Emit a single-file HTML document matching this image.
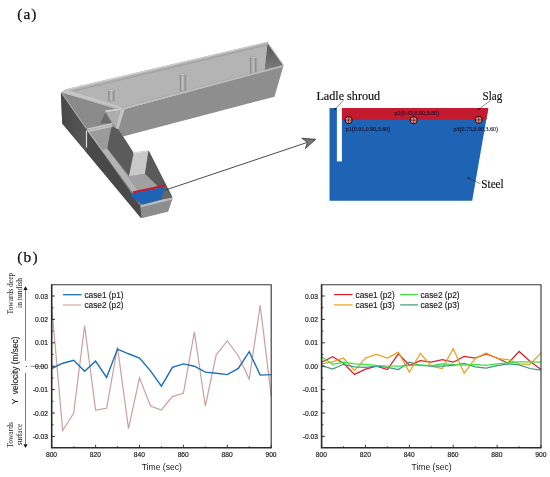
<!DOCTYPE html>
<html><head><meta charset="utf-8"><title>Figure</title>
<style>html,body{margin:0;padding:0;background:#fff}body{width:550px;height:477px;overflow:hidden;font-family:"Liberation Sans",sans-serif}svg{display:block}</style>
</head><body>
<svg width="550" height="477" viewBox="0 0 550 477" font-family="'Liberation Sans', sans-serif">
<rect width="550" height="477" fill="#fff"/>
<g font-family="'Liberation Serif', serif" fill="#111">
<text x="17.2" y="19.4" font-size="15.4" letter-spacing="1.1" stroke="#111" stroke-width="0.25">(a)</text>
<text x="17.2" y="261.6" font-size="15.4" letter-spacing="1.3" stroke="#111" stroke-width="0.25">(b)</text>
</g>
<defs>
<linearGradient id="gOuter" x1="0" y1="0" x2="1" y2="0"><stop offset="0" stop-color="#474747"/><stop offset="1" stop-color="#575757"/></linearGradient>
<linearGradient id="gPost" x1="0" y1="0" x2="1" y2="0"><stop offset="0" stop-color="#8a8a8a"/><stop offset="0.45" stop-color="#c4c4c4"/><stop offset="1" stop-color="#8a8a8a"/></linearGradient>
<linearGradient id="gEnd" x1="0" y1="0" x2="0" y2="1"><stop offset="0" stop-color="#575757"/><stop offset="1" stop-color="#7c7c7c"/></linearGradient>
</defs>
<g id="tundish" stroke-linejoin="round">
<!-- base silhouette to avoid gaps -->
<polygon points="61,92.5 66,89.5 121,108 125,108.5 118.5,129 133.6,153 148.5,150.5 172.4,198 168,211.5 141.5,218 62.2,123.4" fill="#7a7a7a"/>
<!-- long arm interior -->
<polygon points="66,90 267.5,42.8 264.4,70.2 121,108.5" fill="#b4b4b4"/>
<!-- right end wall inner -->
<polygon points="267.5,43.2 283.4,65.6 264.4,70.4" fill="url(#gEnd)"/>
<!-- back rim -->
<polygon points="65.5,89.3 267.3,41.8 268.6,44.4 67.5,92.4" fill="#b2b2b2"/>
<polygon points="65.5,89.3 267.3,41.8 268,43.1 66.3,90.9" fill="#cfcfcf"/>
<polyline points="67.5,92.6 268.4,44.6" fill="none" stroke="#8c8c8c" stroke-width="0.5"/><polyline points="66.3,91 268,43.2" fill="none" stroke="#999" stroke-width="0.35"/>
<polyline points="267.8,42.4 283.6,65" fill="none" stroke="#bdbdbd" stroke-width="0.8"/>
<!-- posts -->
<g fill="url(#gPost)" stroke="#777" stroke-width="0.3">
<rect x="108.6" y="90.5" width="5.6" height="10.5"/><ellipse cx="111.4" cy="90.5" rx="2.8" ry="1.1" fill="#c8c8c8"/>
<rect x="180" y="74.5" width="5.8" height="16.5"/><ellipse cx="182.9" cy="74.5" rx="2.9" ry="1.1" fill="#c8c8c8"/>
<rect x="250.4" y="57.5" width="5.8" height="17"/><ellipse cx="253.3" cy="57.5" rx="2.9" ry="1.1" fill="#c8c8c8"/>
</g>
<!-- front wall outer -->
<polygon points="124.5,109 283.4,66 274.5,96.7 122,136.8 118.2,129" fill="#8e8e8e"/>
<polygon points="121,108 283.4,65 283.6,66.7 121,109.9" fill="#bebebe"/>
<polyline points="121,107.9 283.4,64.9" fill="none" stroke="#9a9a9a" stroke-width="0.4"/>
<!-- corner: sloped inner triangle -->
<polygon points="62,93 121,108.5 118,128.5 85.5,128.5" fill="#8b8b8b"/>
<!-- diagonal rim -->
<polygon points="61.2,92.4 65.8,89.6 121.8,107.2 120.8,110.8" fill="#b2b2b2"/>
<polygon points="61.2,92.4 65.8,89.6 121.8,107.2 121.3,108.8" fill="#c6c6c6"/>
<polyline points="62,93.6 120.8,111" fill="none" stroke="#858585" stroke-width="0.5"/>
<!-- notch -->
<polygon points="105.3,110.3 121,108.3 121,110.4 105.5,112.4" fill="#cdcdcd"/>
<polygon points="106,112.4 120,110.4 116.5,128 112,123" fill="#adadad"/>
<polygon points="100,123.5 105.5,112.6 112,123" fill="#6c6c6c"/>
<polygon points="120.6,109.5 124.8,108.8 118.4,129.4 115.8,128" fill="#c4c4c4"/>
<!-- outer left wall seg 1 -->
<polygon points="60.8,92.8 85.8,128.3 85.8,151.8 62.2,123.4" fill="url(#gOuter)"/>
<polyline points="61.4,92.6 86,128.1" fill="none" stroke="#b5b5b5" stroke-width="0.9"/>
<!-- short arm -->
<!-- outer left wall seg 2 -->
<polygon points="85.7,128.5 87,130 140.5,206.5 141.2,218.4 85.7,151.7" fill="#494949"/>
<rect x="85.9" y="130.6" width="1.2" height="16.9" fill="#dcdcdc"/>
<!-- interior first section: end wall face -->
<polygon points="88.6,132 111,127.5 107.2,147.8 102.8,150" fill="#9b9b9b"/>
<polygon points="86.6,128.6 112,123 112.6,127 88,132.2" fill="#c4c4c4"/>
<polyline points="87.2,130.4 112.3,125" fill="none" stroke="#9a9a9a" stroke-width="0.45"/>
<!-- left inner sloped face (light) -->
<polygon points="88,132 89.4,131.8 103,150 107.2,147.8 138,190.5 133,193" fill="#b4b4b4"/>
<!-- dark inner right wall, first section -->
<polygon points="111.8,126.5 118.4,129.4 133.6,153 129,176.3 107.4,148.7" fill="#5b5b5b"/>
<!-- floor mid -->
<polygon points="109.5,151.5 129,176.3 145,173.7 161,189 138,190.5" fill="#a0a0a0"/>
<!-- box -->
<polygon points="133.5,154 148.2,151.5 145,173.7 129,176.3" fill="#c9c9c9"/>
<polygon points="133.3,152.4 148.4,150 148.4,151.8 133.5,154.3" fill="#dadada"/>
<!-- dark inner right wall, last section -->
<polygon points="148.8,150.8 172.4,197 168,199.5 162.8,191 145,173.7" fill="#5a5a5a"/>
<!-- blue / red -->
<polygon points="132.5,193.3 165.3,186.6 161.6,199.8 143,205.3 131,196" fill="#1f64b4"/>
<polygon points="133,191.3 165.2,184.6 165.5,186.6 133.2,193.4" fill="#c41a30"/>
<!-- right wall inner near end -->
<polygon points="165.4,186.6 172.4,198.5 161.5,200.3" fill="#666"/>
<!-- end face -->
<polygon points="140.5,206.5 172.4,199 168,211.5 141.5,218" fill="#8d8d8d"/>
<polygon points="140.5,205.3 161.5,199.8 172.4,197.4 172.4,199.4 140.7,207.2" fill="#bdbdbd"/>
</g>

<!-- right schematic -->
<g>
<polygon points="329.5,108 488.3,108 472.2,200.7 329.5,200.7" fill="#1f64b4"/>
<polygon points="341.9,108 488.3,108 486.3,119.8 341.9,119.8" fill="#c41a30"/>
<rect x="336.9" y="107" width="5" height="54.4" fill="#fff"/>
<g><circle cx="348.6" cy="120.1" r="3.6" fill="#ef8585" stroke="#1c0808" stroke-width="1.0"/><path d="M345.0,120.1h7.2M348.6,116.5v7.2" fill="none" stroke="#2a0a0a" stroke-width="0.6"/><circle cx="413.7" cy="120.2" r="3.6" fill="#ef8585" stroke="#1c0808" stroke-width="1.0"/><path d="M410.09999999999997,120.2h7.2M413.7,116.60000000000001v7.2" fill="none" stroke="#2a0a0a" stroke-width="0.6"/><circle cx="478.7" cy="119.9" r="3.6" fill="#ef8585" stroke="#1c0808" stroke-width="1.0"/><path d="M475.09999999999997,119.9h7.2M478.7,116.30000000000001v7.2" fill="none" stroke="#2a0a0a" stroke-width="0.6"/></g>
<g font-family="'Liberation Serif', serif" fill="#111" stroke="#111" stroke-width="0.18">
<text x="316.4" y="99.5" font-size="12.2" textLength="63.8" lengthAdjust="spacingAndGlyphs">Ladle shroud</text>
<text x="482.6" y="99.5" font-size="12.2" textLength="19.6" lengthAdjust="spacingAndGlyphs">Slag</text>
<text x="481.3" y="188.4" font-size="12.2" textLength="22.4" lengthAdjust="spacingAndGlyphs">Steel</text>
<g font-size="6" fill="#14102a" stroke="#14102a" stroke-width="0.1">
<text x="345.7" y="130.8">p1(0.01,0.90,3.60)</text>
<text x="394.5" y="114.6">p2(0.42,0.90,3.60)</text>
<text x="453.6" y="130.8">p3(0.75,0.90,3.60)</text>
</g></g>
<g stroke="#222" stroke-width="0.5">
<line x1="343.5" y1="100.3" x2="335.3" y2="108.9"/>
<line x1="490.5" y1="100.5" x2="478.8" y2="109.1"/>
<line x1="480.5" y1="183.8" x2="468.6" y2="178.1"/>
</g>
<circle cx="335.3" cy="108.9" r="0.9" fill="#111"/><circle cx="478.8" cy="109.1" r="0.9" fill="#111"/><circle cx="468.6" cy="178.1" r="0.9" fill="#111"/>
</g>
<!-- big arrow -->
<line x1="164.7" y1="190.3" x2="307" y2="142.5" stroke="#2a2a2a" stroke-width="0.85"/>
<polygon points="315.8,139.3 301.8,138.2 307.5,142.3 305.4,148.6" fill="#777" stroke="#222" stroke-width="0.7"/>

<!-- left chart -->
<g>
<polyline points="51.7,306.3 62.7,430.5 73.7,413.0 84.6,325.7 95.6,410.0 106.6,408.3 117.5,347.0 128.5,428.7 139.5,377.9 150.5,406.0 161.4,410.0 172.4,396.6 183.4,393.3 194.4,331.8 205.3,406.0 216.3,354.5 227.3,340.9 238.3,355.7 249.2,379.1 260.2,305.4 271.2,395.9" fill="none" stroke="#cba0a0" stroke-width="1.2" stroke-linejoin="miter"/>
<polyline points="51.7,368.5 62.7,363.2 73.7,360.3 84.6,371.3 95.6,361.1 106.6,377.4 117.5,349.1 128.5,353.8 139.5,358.0 150.5,370.9 161.4,386.1 172.4,367.4 183.4,363.9 194.4,366.2 205.3,372.1 216.3,373.2 227.3,374.6 238.3,368.5 249.2,351.7 260.2,375.1 271.2,374.6" fill="none" stroke="#1f6fb8" stroke-width="1.45" stroke-linejoin="miter"/>
<path d="M51.7,284.7H271.2V447.8" fill="none" stroke="#3a3a3a" stroke-width="1.15"/><path d="M51.7,284.2V447.8H271.7" fill="none" stroke="#2c2c2c" stroke-width="1.6" stroke-linejoin="miter"/><line x1="51.7" y1="436.4" x2="54.900000000000006" y2="436.4" stroke="#2a2a2a" stroke-width="1.0"/><text transform="translate(48.0,438.9) scale(0.89,1)" font-size="7.5" text-anchor="end" fill="#222" stroke="#222" stroke-width="0.2">-0.03</text><line x1="51.7" y1="413.0" x2="54.900000000000006" y2="413.0" stroke="#2a2a2a" stroke-width="1.0"/><text transform="translate(48.0,415.5) scale(0.89,1)" font-size="7.5" text-anchor="end" fill="#222" stroke="#222" stroke-width="0.2">-0.02</text><line x1="51.7" y1="389.6" x2="54.900000000000006" y2="389.6" stroke="#2a2a2a" stroke-width="1.0"/><text transform="translate(48.0,392.1) scale(0.89,1)" font-size="7.5" text-anchor="end" fill="#222" stroke="#222" stroke-width="0.2">-0.01</text><line x1="51.7" y1="366.2" x2="54.900000000000006" y2="366.2" stroke="#2a2a2a" stroke-width="1.0"/><text transform="translate(48.0,368.7) scale(0.89,1)" font-size="7.5" text-anchor="end" fill="#222" stroke="#222" stroke-width="0.2">0.00</text><line x1="51.7" y1="342.8" x2="54.900000000000006" y2="342.8" stroke="#2a2a2a" stroke-width="1.0"/><text transform="translate(48.0,345.3) scale(0.89,1)" font-size="7.5" text-anchor="end" fill="#222" stroke="#222" stroke-width="0.2">0.01</text><line x1="51.7" y1="319.4" x2="54.900000000000006" y2="319.4" stroke="#2a2a2a" stroke-width="1.0"/><text transform="translate(48.0,321.9) scale(0.89,1)" font-size="7.5" text-anchor="end" fill="#222" stroke="#222" stroke-width="0.2">0.02</text><line x1="51.7" y1="296.0" x2="54.900000000000006" y2="296.0" stroke="#2a2a2a" stroke-width="1.0"/><text transform="translate(48.0,298.5) scale(0.89,1)" font-size="7.5" text-anchor="end" fill="#222" stroke="#222" stroke-width="0.2">0.03</text><line x1="51.7" y1="424.7" x2="53.5" y2="424.7" stroke="#2a2a2a" stroke-width="0.9"/><line x1="51.7" y1="401.3" x2="53.5" y2="401.3" stroke="#2a2a2a" stroke-width="0.9"/><line x1="51.7" y1="377.9" x2="53.5" y2="377.9" stroke="#2a2a2a" stroke-width="0.9"/><line x1="51.7" y1="354.5" x2="53.5" y2="354.5" stroke="#2a2a2a" stroke-width="0.9"/><line x1="51.7" y1="331.1" x2="53.5" y2="331.1" stroke="#2a2a2a" stroke-width="0.9"/><line x1="51.7" y1="307.7" x2="53.5" y2="307.7" stroke="#2a2a2a" stroke-width="0.9"/><line x1="51.7" y1="447.8" x2="51.7" y2="444.8" stroke="#2a2a2a" stroke-width="0.9"/><text transform="translate(51.5,457.3) scale(0.89,1)" font-size="7.5" text-anchor="middle" fill="#222" stroke="#222" stroke-width="0.2">800</text><line x1="95.6" y1="447.8" x2="95.6" y2="444.8" stroke="#2a2a2a" stroke-width="0.9"/><text transform="translate(95.4,457.3) scale(0.89,1)" font-size="7.5" text-anchor="middle" fill="#222" stroke="#222" stroke-width="0.2">820</text><line x1="139.5" y1="447.8" x2="139.5" y2="444.8" stroke="#2a2a2a" stroke-width="0.9"/><text transform="translate(139.3,457.3) scale(0.89,1)" font-size="7.5" text-anchor="middle" fill="#222" stroke="#222" stroke-width="0.2">840</text><line x1="183.4" y1="447.8" x2="183.4" y2="444.8" stroke="#2a2a2a" stroke-width="0.9"/><text transform="translate(183.2,457.3) scale(0.89,1)" font-size="7.5" text-anchor="middle" fill="#222" stroke="#222" stroke-width="0.2">860</text><line x1="227.3" y1="447.8" x2="227.3" y2="444.8" stroke="#2a2a2a" stroke-width="0.9"/><text transform="translate(227.1,457.3) scale(0.89,1)" font-size="7.5" text-anchor="middle" fill="#222" stroke="#222" stroke-width="0.2">880</text><line x1="271.2" y1="447.8" x2="271.2" y2="444.8" stroke="#2a2a2a" stroke-width="0.9"/><text transform="translate(271.0,457.3) scale(0.89,1)" font-size="7.5" text-anchor="middle" fill="#222" stroke="#222" stroke-width="0.2">900</text><line x1="73.7" y1="447.8" x2="73.7" y2="446.2" stroke="#2a2a2a" stroke-width="0.8"/><line x1="117.5" y1="447.8" x2="117.5" y2="446.2" stroke="#2a2a2a" stroke-width="0.8"/><line x1="161.4" y1="447.8" x2="161.4" y2="446.2" stroke="#2a2a2a" stroke-width="0.8"/><line x1="205.3" y1="447.8" x2="205.3" y2="446.2" stroke="#2a2a2a" stroke-width="0.8"/><line x1="249.2" y1="447.8" x2="249.2" y2="446.2" stroke="#2a2a2a" stroke-width="0.8"/><text x="161.8" y="470.3" font-size="8.6" text-anchor="middle" fill="#222">Time (sec)</text>
<line x1="63" y1="294.7" x2="81.6" y2="294.7" stroke="#1f6fb8" stroke-width="1.3"/>
<line x1="63" y1="305" x2="81.4" y2="305" stroke="#cfa3a3" stroke-width="1.1"/>
<text x="84.4" y="297.8" font-size="8.3" fill="#222" stroke="#222" stroke-width="0.15">case1 (p1)</text>
<text x="84.4" y="308.1" font-size="8.3" fill="#222" stroke="#222" stroke-width="0.15">case2 (p2)</text>
<text transform="translate(17.7,370.4) rotate(-90)" font-size="8.3" stroke="#222" stroke-width="0.12" text-anchor="middle" fill="#222" xml:space="preserve">Y  velocity (m/sec)</text>
<g font-family="'Liberation Serif', serif" font-size="7.5" fill="#222" text-anchor="middle">
<text transform="translate(13.4,293.6) rotate(-90)">Towards deep</text>
<text transform="translate(22.4,293) rotate(-90)">in tundish</text>
<text transform="translate(13.4,435) rotate(-90)">Towards</text>
<text transform="translate(22.4,434.5) rotate(-90)">surface</text>
</g>
<g stroke="#222" stroke-width="0.6">
<line x1="25.5" y1="360.9" x2="25.5" y2="290"/>
<line x1="25.5" y1="372.8" x2="25.5" y2="444"/>
<line x1="30.5" y1="366.3" x2="44.5" y2="366.3" stroke-width="0.55"/>
<line x1="25.8" y1="366.4" x2="27" y2="366.4" stroke-width="0.9"/>
</g>
<polygon points="25.5,286.2 23.4,290 27.6,290" fill="#111"/>
<polygon points="25.5,448 23.4,444.2 27.6,444.2" fill="#111"/>
</g>
<!-- right chart -->
<g>
<polyline points="321.6,362.2 332.6,356.6 343.5,363.3 354.5,374.4 365.5,369.1 376.5,366.2 387.4,369.5 398.4,353.8 409.4,365.3 420.3,360.6 431.3,362.2 442.3,359.6 453.2,362.2 464.2,356.4 475.2,358.0 486.1,353.8 497.1,358.0 508.1,363.3 519.1,351.5 530.0,361.3 541.0,369.5" fill="none" stroke="#d8202a" stroke-width="1.25" stroke-linejoin="miter"/>
<polyline points="321.6,363.9 332.6,361.8 343.5,358.0 354.5,370.6 365.5,358.0 376.5,354.3 387.4,358.0 398.4,352.2 409.4,372.3 420.3,353.3 431.3,366.2 442.3,368.5 453.2,348.6 464.2,373.2 475.2,358.5 486.1,352.9 497.1,358.5 508.1,359.6 519.1,363.9 530.0,364.3 541.0,352.9" fill="none" stroke="#e8a020" stroke-width="1.25" stroke-linejoin="miter"/>
<polyline points="321.6,365.7 332.6,369.0 343.5,364.3 354.5,366.9 365.5,367.4 376.5,366.2 387.4,367.4 398.4,369.5 409.4,362.2 420.3,365.3 431.3,366.2 442.3,366.2 453.2,365.3 464.2,363.3 475.2,366.9 486.1,368.1 497.1,365.7 508.1,363.9 519.1,364.8 530.0,368.5 541.0,370.2" fill="none" stroke="#3d9a80" stroke-width="1.25" stroke-linejoin="miter"/>
<polyline points="321.6,356.8 332.6,364.3 343.5,362.2 354.5,363.9 365.5,364.3 376.5,365.3 387.4,366.0 398.4,366.2 409.4,365.7 420.3,365.0 431.3,365.7 442.3,363.9 453.2,364.3 464.2,365.0 475.2,364.3 486.1,365.3 497.1,363.9 508.1,362.9 519.1,361.8 530.0,361.8 541.0,362.2" fill="none" stroke="#3ee03e" stroke-width="1.25" stroke-linejoin="miter"/>
<path d="M321.6,284.7H541.0V447.8" fill="none" stroke="#3a3a3a" stroke-width="1.15"/><path d="M321.6,284.2V447.8H541.5" fill="none" stroke="#2c2c2c" stroke-width="1.6" stroke-linejoin="miter"/><line x1="321.6" y1="436.4" x2="324.8" y2="436.4" stroke="#2a2a2a" stroke-width="1.0"/><text transform="translate(317.9,438.9) scale(0.89,1)" font-size="7.5" text-anchor="end" fill="#222" stroke="#222" stroke-width="0.2">-0.03</text><line x1="321.6" y1="413.0" x2="324.8" y2="413.0" stroke="#2a2a2a" stroke-width="1.0"/><text transform="translate(317.9,415.5) scale(0.89,1)" font-size="7.5" text-anchor="end" fill="#222" stroke="#222" stroke-width="0.2">-0.02</text><line x1="321.6" y1="389.6" x2="324.8" y2="389.6" stroke="#2a2a2a" stroke-width="1.0"/><text transform="translate(317.9,392.1) scale(0.89,1)" font-size="7.5" text-anchor="end" fill="#222" stroke="#222" stroke-width="0.2">-0.01</text><line x1="321.6" y1="366.2" x2="324.8" y2="366.2" stroke="#2a2a2a" stroke-width="1.0"/><text transform="translate(317.9,368.7) scale(0.89,1)" font-size="7.5" text-anchor="end" fill="#222" stroke="#222" stroke-width="0.2">0.00</text><line x1="321.6" y1="342.8" x2="324.8" y2="342.8" stroke="#2a2a2a" stroke-width="1.0"/><text transform="translate(317.9,345.3) scale(0.89,1)" font-size="7.5" text-anchor="end" fill="#222" stroke="#222" stroke-width="0.2">0.01</text><line x1="321.6" y1="319.4" x2="324.8" y2="319.4" stroke="#2a2a2a" stroke-width="1.0"/><text transform="translate(317.9,321.9) scale(0.89,1)" font-size="7.5" text-anchor="end" fill="#222" stroke="#222" stroke-width="0.2">0.02</text><line x1="321.6" y1="296.0" x2="324.8" y2="296.0" stroke="#2a2a2a" stroke-width="1.0"/><text transform="translate(317.9,298.5) scale(0.89,1)" font-size="7.5" text-anchor="end" fill="#222" stroke="#222" stroke-width="0.2">0.03</text><line x1="321.6" y1="424.7" x2="323.40000000000003" y2="424.7" stroke="#2a2a2a" stroke-width="0.9"/><line x1="321.6" y1="401.3" x2="323.40000000000003" y2="401.3" stroke="#2a2a2a" stroke-width="0.9"/><line x1="321.6" y1="377.9" x2="323.40000000000003" y2="377.9" stroke="#2a2a2a" stroke-width="0.9"/><line x1="321.6" y1="354.5" x2="323.40000000000003" y2="354.5" stroke="#2a2a2a" stroke-width="0.9"/><line x1="321.6" y1="331.1" x2="323.40000000000003" y2="331.1" stroke="#2a2a2a" stroke-width="0.9"/><line x1="321.6" y1="307.7" x2="323.40000000000003" y2="307.7" stroke="#2a2a2a" stroke-width="0.9"/><line x1="321.6" y1="447.8" x2="321.6" y2="444.8" stroke="#2a2a2a" stroke-width="0.9"/><text transform="translate(321.4,457.3) scale(0.89,1)" font-size="7.5" text-anchor="middle" fill="#222" stroke="#222" stroke-width="0.2">800</text><line x1="365.5" y1="447.8" x2="365.5" y2="444.8" stroke="#2a2a2a" stroke-width="0.9"/><text transform="translate(365.3,457.3) scale(0.89,1)" font-size="7.5" text-anchor="middle" fill="#222" stroke="#222" stroke-width="0.2">820</text><line x1="409.4" y1="447.8" x2="409.4" y2="444.8" stroke="#2a2a2a" stroke-width="0.9"/><text transform="translate(409.2,457.3) scale(0.89,1)" font-size="7.5" text-anchor="middle" fill="#222" stroke="#222" stroke-width="0.2">840</text><line x1="453.2" y1="447.8" x2="453.2" y2="444.8" stroke="#2a2a2a" stroke-width="0.9"/><text transform="translate(453.0,457.3) scale(0.89,1)" font-size="7.5" text-anchor="middle" fill="#222" stroke="#222" stroke-width="0.2">860</text><line x1="497.1" y1="447.8" x2="497.1" y2="444.8" stroke="#2a2a2a" stroke-width="0.9"/><text transform="translate(496.9,457.3) scale(0.89,1)" font-size="7.5" text-anchor="middle" fill="#222" stroke="#222" stroke-width="0.2">880</text><line x1="541.0" y1="447.8" x2="541.0" y2="444.8" stroke="#2a2a2a" stroke-width="0.9"/><text transform="translate(540.8,457.3) scale(0.89,1)" font-size="7.5" text-anchor="middle" fill="#222" stroke="#222" stroke-width="0.2">900</text><line x1="343.5" y1="447.8" x2="343.5" y2="446.2" stroke="#2a2a2a" stroke-width="0.8"/><line x1="387.4" y1="447.8" x2="387.4" y2="446.2" stroke="#2a2a2a" stroke-width="0.8"/><line x1="431.3" y1="447.8" x2="431.3" y2="446.2" stroke="#2a2a2a" stroke-width="0.8"/><line x1="475.2" y1="447.8" x2="475.2" y2="446.2" stroke="#2a2a2a" stroke-width="0.8"/><line x1="519.1" y1="447.8" x2="519.1" y2="446.2" stroke="#2a2a2a" stroke-width="0.8"/><text x="431.6" y="470.3" font-size="8.6" text-anchor="middle" fill="#222">Time (sec)</text>
<g stroke-width="1.2">
<line x1="334" y1="294.6" x2="352.6" y2="294.6" stroke="#d8202a"/>
<line x1="334" y1="304.9" x2="352.6" y2="304.9" stroke="#e8a020"/>
<line x1="400.2" y1="294.6" x2="418" y2="294.6" stroke="#3ee03e"/>
<line x1="400.2" y1="304.9" x2="418" y2="304.9" stroke="#3d9a80"/>
</g>
<g font-size="8.3" fill="#222" stroke="#222" stroke-width="0.15">
<text x="355.5" y="297.8">case1 (p2)</text>
<text x="355.5" y="308.1">case1 (p3)</text>
<text x="420.4" y="297.8">case2 (p2)</text>
<text x="420.4" y="308.1">case2 (p3)</text>
</g>
</g>
</svg>
</body></html>
